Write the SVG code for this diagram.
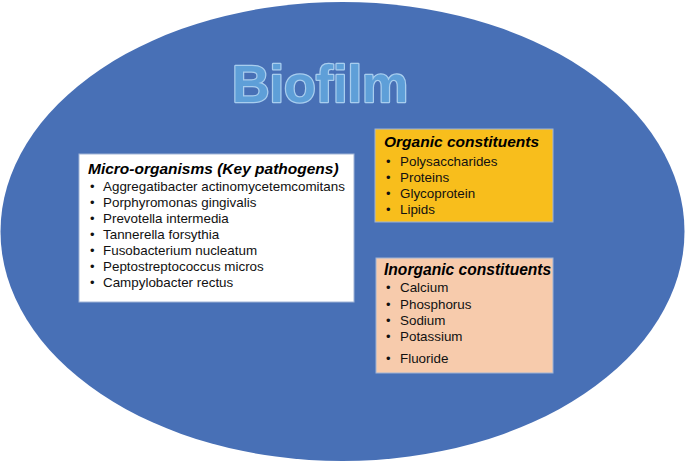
<svg xmlns="http://www.w3.org/2000/svg" width="685" height="462" viewBox="0 0 685 462">
<style>
.t{font-family:"Liberation Sans",Arial,sans-serif;font-size:15.5px;font-weight:bold;font-style:italic;fill:#000}
.i{font-family:"Liberation Sans",Arial,sans-serif;font-size:13.4px;fill:#111}
.b{font-family:"Liberation Sans",Arial,sans-serif;font-size:13px;fill:#111}
.box{stroke:#9fb3d6;stroke-width:1}
</style>
<rect width="685" height="462" fill="#ffffff"/>
<g id="biofilm">
<ellipse cx="342.5" cy="231.5" rx="342" ry="229.5" fill="#4870B6"/>
<text x="232" y="102" font-family="Liberation Sans,Arial,sans-serif" font-size="52" font-weight="bold" fill="#5E9FD8" stroke="#A8CDEE" stroke-width="2.5" paint-order="stroke" stroke-linejoin="round">Biofilm</text>
</g>
<g id="micro">
<rect class="box" x="79" y="154" width="275" height="148" fill="#ffffff"/>
<text class="t" x="88" y="174">Micro-organisms (Key pathogens)</text>
<g class="b"><text x="90" y="190.5">•</text><text x="90" y="206.5">•</text><text x="90" y="222.5">•</text><text x="90" y="238.5">•</text><text x="90" y="254.5">•</text><text x="90" y="270.5">•</text><text x="90" y="286.5">•</text></g>
<text class="i" x="103" y="190.5">Aggregatibacter actinomycetemcomitans</text>
<text class="i" x="103" y="206.5">Porphyromonas gingivalis</text>
<text class="i" x="103" y="222.5">Prevotella intermedia</text>
<text class="i" x="103" y="238.5">Tannerella forsythia</text>
<text class="i" x="103" y="254.5">Fusobacterium nucleatum</text>
<text class="i" x="103" y="270.5">Peptostreptococcus micros</text>
<text class="i" x="103" y="286.5">Campylobacter rectus</text>
</g>
<g id="organic">
<rect class="box" x="375" y="129" width="178" height="93" fill="#F8BE1C"/>
<text class="t" x="384" y="147">Organic constituents</text>
<g class="b"><text x="386" y="165.5">•</text><text x="386" y="181.5">•</text><text x="386" y="197.5">•</text><text x="386" y="213.5">•</text></g>
<text class="i" x="400" y="165.5">Polysaccharides</text>
<text class="i" x="400" y="181.5">Proteins</text>
<text class="i" x="400" y="197.5">Glycoprotein</text>
<text class="i" x="400" y="213.5">Lipids</text>
</g>
<g id="inorganic">
<rect class="box" x="376" y="258" width="177" height="115" fill="#F7CBAC"/>
<text class="t" x="384" y="275" style="font-size:15.6px">Inorganic constituents</text>
<g class="b"><text x="386" y="292">•</text><text x="386" y="308.5">•</text><text x="386" y="324.5">•</text><text x="386" y="341">•</text><text x="386" y="362.5">•</text></g>
<text class="i" x="400" y="292">Calcium</text>
<text class="i" x="400" y="308.5">Phosphorus</text>
<text class="i" x="400" y="324.5">Sodium</text>
<text class="i" x="400" y="341">Potassium</text>
<text class="i" x="400" y="362.5">Fluoride</text>
</g>
</svg>
